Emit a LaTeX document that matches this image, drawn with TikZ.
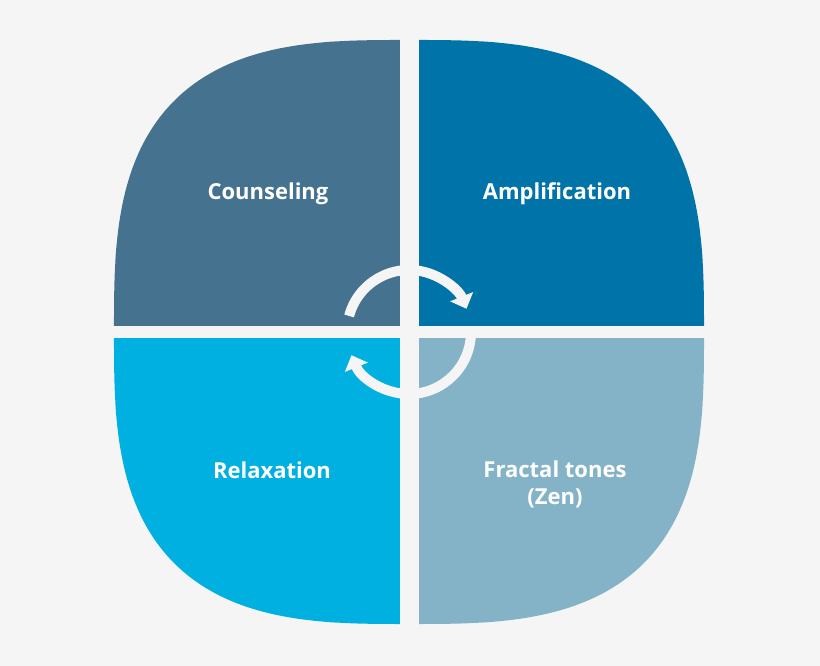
\documentclass[tikz,border=0pt]{standalone}
\usepackage{fontspec}
\setmainfont{Open Sans}
\usetikzlibrary{arrows.meta}
\definecolor{bg}{HTML}{F5F5F5}
\definecolor{qtl}{HTML}{44728F}
\definecolor{qtr}{HTML}{0073A8}
\definecolor{qbl}{HTML}{00B0E0}
\definecolor{qbr}{HTML}{84B3C8}
\begin{document}
\begin{tikzpicture}[x=1pt,y=1pt,
  lbl/.style={text=white,font=\fontsize{22}{27}\selectfont\bfseries,align=center},
  cyc/.style={draw=bg,line width=10pt,-{Triangle[width=24pt,length=13pt]}}]
\fill[bg] (0,0) rectangle (820,666);
\useasboundingbox (0,0) rectangle (820,666);
\def\sq{plot[domain=0.5:360.5,samples=361,smooth] ({409+295*sign(cos(\x))*pow(abs(cos(\x)),2/3)},{334+292*sign(sin(\x))*pow(abs(sin(\x)),2/3)}) -- cycle}
\foreach \c/\xa/\ya/\xb/\yb in {qtl/0/334/409/666, qtr/409/334/820/666, qbl/0/0/409/334, qbr/409/0/820/334}{
  \begin{scope}
    \clip (\xa,\ya) rectangle (\xb,\yb);
    \fill[\c] \sq;
  \end{scope}
}
\fill[bg] (400,0) rectangle (419,666);
\fill[bg] (0,328) rectangle (820,340);
\coordinate (c) at (409,334);
\draw[cyc] ([shift={(165:62)}]c) arc[start angle=165,end angle=22,radius=62];
\draw[cyc] ([shift={(-5:62)}]c) arc[start angle=-5,end angle=-158,radius=62];
\node[lbl] (a) at (268,472) {Counseling};
\node[lbl] (b) at (557,472) {Amplification};
\node[lbl] (d) at (272,196) {Relaxation};
\node[lbl] (e) at (555,182) {Fractal tones\\(Zen)};
\end{tikzpicture}
\end{document}
